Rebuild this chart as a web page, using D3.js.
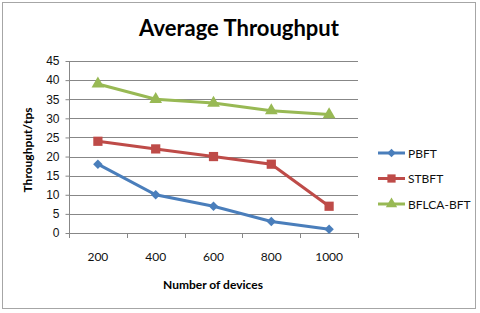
<!DOCTYPE html>
<html>
  <head>
    <meta charset="utf-8">
    <title>Average Throughput</title>
    <script src="https://d3js.org/d3.v7.min.js"></script>
    <style>
      body { margin: 0; background: #fff; }
      svg { font-family: Lato, "Open Sans", sans-serif; }
    </style>
  </head>
  <body>
    <svg id="chart" width="480" height="313"></svg>
    <script>
      // data
      var devices = ["200", "400", "600", "800", "1000"];
      var pbft = [18, 10, 7, 3, 1];
      var stbft = [24, 22, 20, 18, 7];
      var bflca = [39, 35, 34, 32, 31];
      var yTicks = [0, 5, 10, 15, 20, 25, 30, 35, 40, 45];
      var seriesNames = ["PBFT", "STBFT", "BFLCA-BFT"];

      // diamond = square turned 45 degrees, like the spreadsheet marker
      var series = [
        { name: seriesNames[0], values: pbft, color: "#4a7ebb", shape: d3.symbolSquare, size: 45, turn: 45 },
        { name: seriesNames[1], values: stbft, color: "#be4b48", shape: d3.symbolSquare, size: 85, turn: 0 },
        { name: seriesNames[2], values: bflca, color: "#98b954", shape: d3.symbolTriangle, size: 70, turn: 0 }
      ];

      var svg = d3.select("#chart");
      var plotLeft = 69, plotRight = 358, plotTop = 61, plotBottom = 233;

      // chart frame
      svg.append("rect")
        .attr("x", 2.5).attr("y", 2.5)
        .attr("width", 473).attr("height", 306)
        .attr("fill", "#fff").attr("stroke", "#a6a6a6");

      var x = d3.scaleBand().domain(devices).range([plotLeft, plotRight]);
      var y = d3.scaleLinear().domain([0, 45]).range([plotBottom, plotTop]);
      var cx = function(d) { return x(d) + x.bandwidth() / 2; };

      // gridlines
      svg.append("g")
        .selectAll("line")
          .data(yTicks.slice(1))
        .enter().append("line")
          .attr("x1", plotLeft).attr("x2", plotRight)
          .attr("y1", function(d) { return Math.round(y(d)) + .5; })
          .attr("y2", function(d) { return Math.round(y(d)) + .5; })
          .attr("stroke", "#878787");

      // y axis
      var yAxis = d3.axisLeft(y).tickValues(yTicks).tickSize(4).tickPadding(6);
      var gy = svg.append("g").attr("transform", "translate(" + (plotLeft + .5) + ",0)").call(yAxis);
      gy.select(".domain").attr("stroke", "#878787").attr("d", "M0," + plotTop + "V" + plotBottom);
      gy.selectAll(".tick line").attr("stroke", "#878787");
      gy.selectAll("text").attr("font-size", 12).attr("fill", "#111");

      // x axis with ticks between categories
      svg.append("line")
        .attr("x1", plotLeft).attr("x2", plotRight)
        .attr("y1", plotBottom + .5).attr("y2", plotBottom + .5)
        .attr("stroke", "#878787");
      svg.append("g")
        .selectAll("line")
          .data(devices.concat(["end"]))
        .enter().append("line")
          .attr("x1", function(d, i) { return Math.round(plotLeft + i * x.step()) + .5; })
          .attr("x2", function(d, i) { return Math.round(plotLeft + i * x.step()) + .5; })
          .attr("y1", plotBottom).attr("y2", plotBottom + 5)
          .attr("stroke", "#878787");
      svg.append("g")
        .selectAll("text")
          .data(devices)
        .enter().append("text")
          .attr("x", cx)
          .attr("y", 261)
          .attr("text-anchor", "middle")
          .attr("font-size", 12)
          .attr("fill", "#111")
          .text(function(d) { return d; });

      // series lines and markers
      var line = d3.line()
        .x(function(d, i) { return cx(devices[i]); })
        .y(function(d) { return y(d); });
      series.forEach(function(s) {
        svg.append("path")
          .attr("d", line(s.values))
          .attr("fill", "none")
          .attr("stroke", s.color)
          .attr("stroke-width", 3);
        svg.append("g")
          .selectAll("path")
            .data(s.values)
          .enter().append("path")
            .attr("transform", function(d, i) { return "translate(" + cx(devices[i]) + "," + y(d) + ") rotate(" + s.turn + ")"; })
            .attr("d", d3.symbol().type(s.shape).size(s.size))
            .attr("fill", s.color);
      });

      // legend
      var legend = svg.append("g")
        .selectAll("g")
          .data(series)
        .enter().append("g")
          .attr("transform", function(d, i) { return "translate(378," + (153 + i * 25.5) + ")"; });
      legend.append("line")
        .attr("x1", 0).attr("x2", 27)
        .attr("stroke", function(d) { return d.color; })
        .attr("stroke-width", 3);
      legend.append("path")
        .attr("transform", function(d) { return "translate(13.5,0) rotate(" + d.turn + ")"; })
        .attr("d", function(d) { return d3.symbol().type(d.shape).size(d.size * 0.8)(); })
        .attr("fill", function(d) { return d.color; });
      legend.append("text")
        .attr("x", 30).attr("y", 4.5)
        .attr("font-size", 12)
        .attr("fill", "#111")
        .text(function(d) { return d.name; });

      // titles
      svg.append("text")
        .attr("x", 239).attr("y", 36)
        .attr("text-anchor", "middle")
        .attr("font-size", 22)
        .attr("font-weight", "bold")
        .text("Average Throughput");
      svg.append("text")
        .attr("x", 213).attr("y", 289)
        .attr("text-anchor", "middle")
        .attr("font-size", 12)
        .attr("font-weight", "bold")
        .text("Number  of devices");
      svg.append("text")
        .attr("transform", "translate(32,150) rotate(-90)")
        .attr("text-anchor", "middle")
        .attr("font-size", 12)
        .attr("font-weight", "bold")
        .text("Throughput/tps");
    </script>
  </body>
</html>
